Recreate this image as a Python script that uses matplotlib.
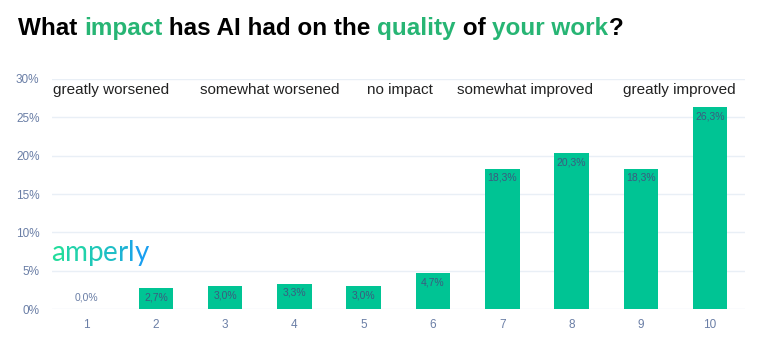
import numpy as np
import matplotlib
matplotlib.use("Agg")
import matplotlib.pyplot as plt
from matplotlib.colors import to_rgb

# Data
scores = [1, 2, 3, 4, 5, 6, 7, 8, 9, 10]
shares = [0.0, 2.7, 3.0, 3.3, 3.0, 4.7, 18.3, 20.3, 18.3, 26.3]
scale_labels = ["greatly worsened", "somewhat worsened", "no impact",
                "somewhat improved", "greatly improved"]
scale_label_x = [1.35, 3.64, 5.52, 7.33, 9.56]
title_parts = [("What ", "black"), ("impact", "green"), (" has AI had on the ", "black"),
               ("quality", "green"), (" of ", "black"), ("your work", "green"), ("?", "black")]

BAR = "#00c494"
GREEN = "#27b574"
TICK = "#6a7ea6"
LABEL = "#3d5a80"
GRID = "#e9eff6"

plt.rcParams["font.family"] = ["Liberation Sans", "DejaVu Sans"]

fig = plt.figure(figsize=(7.68, 3.48), dpi=100)
ax = fig.add_axes([0.0677, 0.112, 0.902, 0.661])

ax.bar(scores, shares, width=0.5, color=BAR, zorder=3)

# value labels inside the bars
for x, v in zip(scores, shares):
    txt = f"{v:.1f}%".replace(".", ",")
    if v > 1:
        ax.annotate(txt, (x, v), xytext=(0, -3), textcoords="offset points",
                    ha="center", va="top", fontsize=7.5, color=LABEL, zorder=4)
    else:
        ax.annotate(txt, (x, v), xytext=(0, 5), textcoords="offset points",
                    ha="center", va="bottom", fontsize=7.5, color=TICK, zorder=4)

ax.set_xlim(0.5, 10.5)
ax.set_ylim(0, 30)
ax.set_yticks(range(0, 31, 5))
ax.set_yticklabels([f"{t}%" for t in range(0, 31, 5)])
ax.set_xticks(scores)
ax.tick_params(length=0, labelsize=8.5, labelcolor=TICK)
ax.tick_params(axis="x", pad=7)
ax.tick_params(axis="y", pad=9)
ax.grid(axis="y", color=GRID, lw=1, zorder=0)
for s in ax.spines.values():
    s.set_visible(False)

# scale labels above the chart
for lab, lx in zip(scale_labels, scale_label_x):
    ax.text(lx, 28.5, lab, ha="center", va="center", fontsize=11, color="#222222")

fig.canvas.draw()
r = fig.canvas.get_renderer()


def text_width(s, **kw):
    # width of s in figure fraction, trailing spaces kept by adding a guard char
    a = fig.text(0, 0, s + "x", **kw)
    b = fig.text(0, 0, "x", **kw)
    w = a.get_window_extent(r).width - b.get_window_extent(r).width
    a.remove()
    b.remove()
    return w / fig.bbox.width


# multi-coloured title
tkw = dict(fontsize=17.5, fontweight="bold")
x0 = 18 / 768
prefix = ""
for part, c in title_parts:
    fig.text(x0 + text_width(prefix, **tkw), 1 - 35 / 348, part,
             color=GREEN if c == "green" else "black", va="baseline", ha="left", **tkw)
    prefix += part

# gradient "amperly" logo
c0 = np.array(to_rgb("#22dc9c"))
c1 = np.array(to_rgb("#1a9ff0"))
word = "amperly"
lkw = dict(fontsize=20, family=["Lato", "DejaVu Sans"])
for i, ch in enumerate(word):
    col = c0 + (c1 - c0) * i / (len(word) - 1)
    fig.text(51 / 768 + text_width(word[:i], **lkw), 1 - 261 / 348, ch, color=col,
             va="baseline", ha="left", **lkw)

fig.savefig("out.png", dpi=100)
